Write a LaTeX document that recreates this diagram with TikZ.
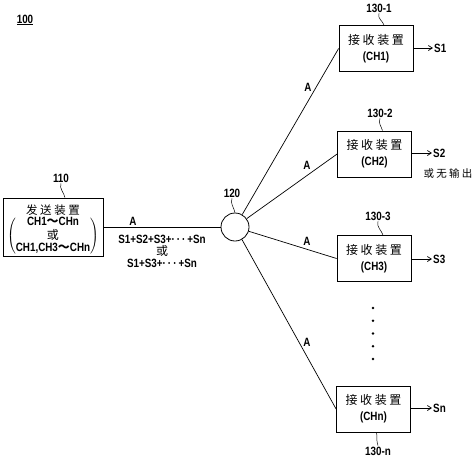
\documentclass[tikz,border=0pt]{standalone}
\usepackage{fontspec}
\setmainfont{Liberation Sans}[FakeStretch=0.82]
\newfontfamily\cjk{Noto Sans CJK SC}
\newfontfamily\cjkwide{Noto Sans CJK SC}[LetterSpace=22]
\usetikzlibrary{arrows.meta}

\begin{document}
\begin{tikzpicture}[x=1pt, y=-1pt,
  lbl/.style  = {font=\bfseries\fontsize{12}{13}\selectfont, inner sep=1pt},
  rxbox/.style = {draw, line width=0.8pt, minimum width=74pt, minimum height=46pt,
                 align=center, inner sep=0pt, font=\bfseries\fontsize{12}{16}\selectfont},
  link/.style = {line width=0.7pt},
  tag/.style  = {line width=0.5pt},
  outarrow/.style = {line width=0.7pt, -{Straight Barb[length=4pt,width=5pt]}}]
  \useasboundingbox (0,0) rectangle (474,459);

  % reference label of the whole system
  \node[lbl] (n100) at (25,20) {$\underline{\hbox{100}}$};

  % sender
  \node[draw, line width=0.8pt, minimum width=100pt, minimum height=58pt, text height=50pt,
        inner sep=0pt, font=\bfseries\fontsize{12}{12}\selectfont] (tx) at (53,227) {};
  \node[font=\mdseries\fontsize{11.5}{12}\selectfont, inner sep=0pt] (txname) at (53,210)
    {\cjkwide 发送装置};
  \node[font=\bfseries\fontsize{12}{12}\selectfont, inner sep=0pt] (txch) at (53,236)
    {$\left(\vcenter{\hbox{\renewcommand\arraystretch{0.95}\begin{tabular}{@{}c@{}}
       CH1{\cjk ～}CHn\\ {\mdseries\cjk 或}\\ CH1,CH3{\cjk ～}CHn
     \end{tabular}}}\right)$};
  \node[lbl] (n110) at (61,178) {110};
  \draw[tag] (n110.south) .. controls +(-2,5) and +(-1,-5) .. ([xshift=12pt]tx.north);

  % coupler
  \node[draw, circle, line width=0.8pt, minimum size=28pt, inner sep=0pt] (hub) at (235,227) {};
  \node[lbl] (n120) at (232,193) {120};
  \draw[tag] (n120.south) .. controls +(-2,5) and +(-1,-5) .. (hub.north);

  \draw[link] (tx) -- (hub);
  \node[lbl] (a0) at (133,221) {A};
  \node[lbl, align=center] (sig) at (162,251)
    {S1+S2+S3+·\,·\,·\,+Sn\\[-1pt]{\mdseries\cjk 或}\\[-1pt]S1+S3+·\,·\,·\,+Sn};

  % receivers
  \node[rxbox] (rx1) at (376,48.5)  {{\mdseries\cjkwide 接收装置}\\(CH1)};
  \node[rxbox] (rx2) at (374.5,154) {{\mdseries\cjkwide 接收装置}\\(CH2)};
  \node[rxbox] (rx3) at (374,258.5) {{\mdseries\cjkwide 接收装置}\\(CH3)};
  \node[rxbox] (rxn) at (373.5,409) {{\mdseries\cjkwide 接收装置}\\(CHn)};

  \node[lbl] (n1301) at (379,8)   {130-1};
  \node[lbl] (n1302) at (380,113) {130-2};
  \node[lbl] (n1303) at (378,216) {130-3};
  \node[lbl] (n130n) at (378,451) {130-n};
  \draw[tag] (n1301.south) .. controls +(-2,5) and +(-1,-4) .. ([xshift=8pt]rx1.north);
  \draw[tag] (n1302.south) .. controls +(-2,5) and +(-1,-4) .. ([xshift=8pt]rx2.north);
  \draw[tag] (n1303.south) .. controls +(-2,5) and +(-1,-4) .. ([xshift=9pt]rx3.north);
  \draw[tag] ([xshift=3pt]rxn.south) .. controls +(1,4) and +(-2,-5) .. (n130n.north);

  \draw[link] (hub) -- (rx1.west);
  \draw[link] (hub) -- (rx2.west);
  \draw[link] (hub) -- (rx3.west);
  \draw[link] (hub) -- (rxn.west);
  \node[lbl] (a1) at (308,87)  {A};
  \node[lbl] (a2) at (307,165) {A};
  \node[lbl] (a3) at (307,241) {A};
  \node[lbl] (an) at (307,342) {A};

  \foreach \k in {0,...,4}
    \fill (373,308+12.75*\k) circle (1.3);

  % outputs
  \node[lbl, anchor=west] (s1) at (433,48)  {S1};
  \node[lbl, anchor=west] (s2) at (432,153) {S2};
  \node[lbl, anchor=west] (s3) at (432,259) {S3};
  \node[lbl, anchor=west] (sn) at (432,408) {Sn};
  \draw[outarrow] (rx1.east |- s1) -- (s1.west);
  \draw[outarrow] (rx2.east |- s2) -- (s2.west);
  \draw[outarrow] (rx3.east |- s3) -- (s3.west);
  \draw[outarrow] (rxn.east |- sn) -- (sn.west);
  \node[font=\fontsize{10.5}{12}\selectfont, inner sep=0pt] (none) at (448,173)
    {\cjkwide 或无输出};
\end{tikzpicture}
\end{document}
